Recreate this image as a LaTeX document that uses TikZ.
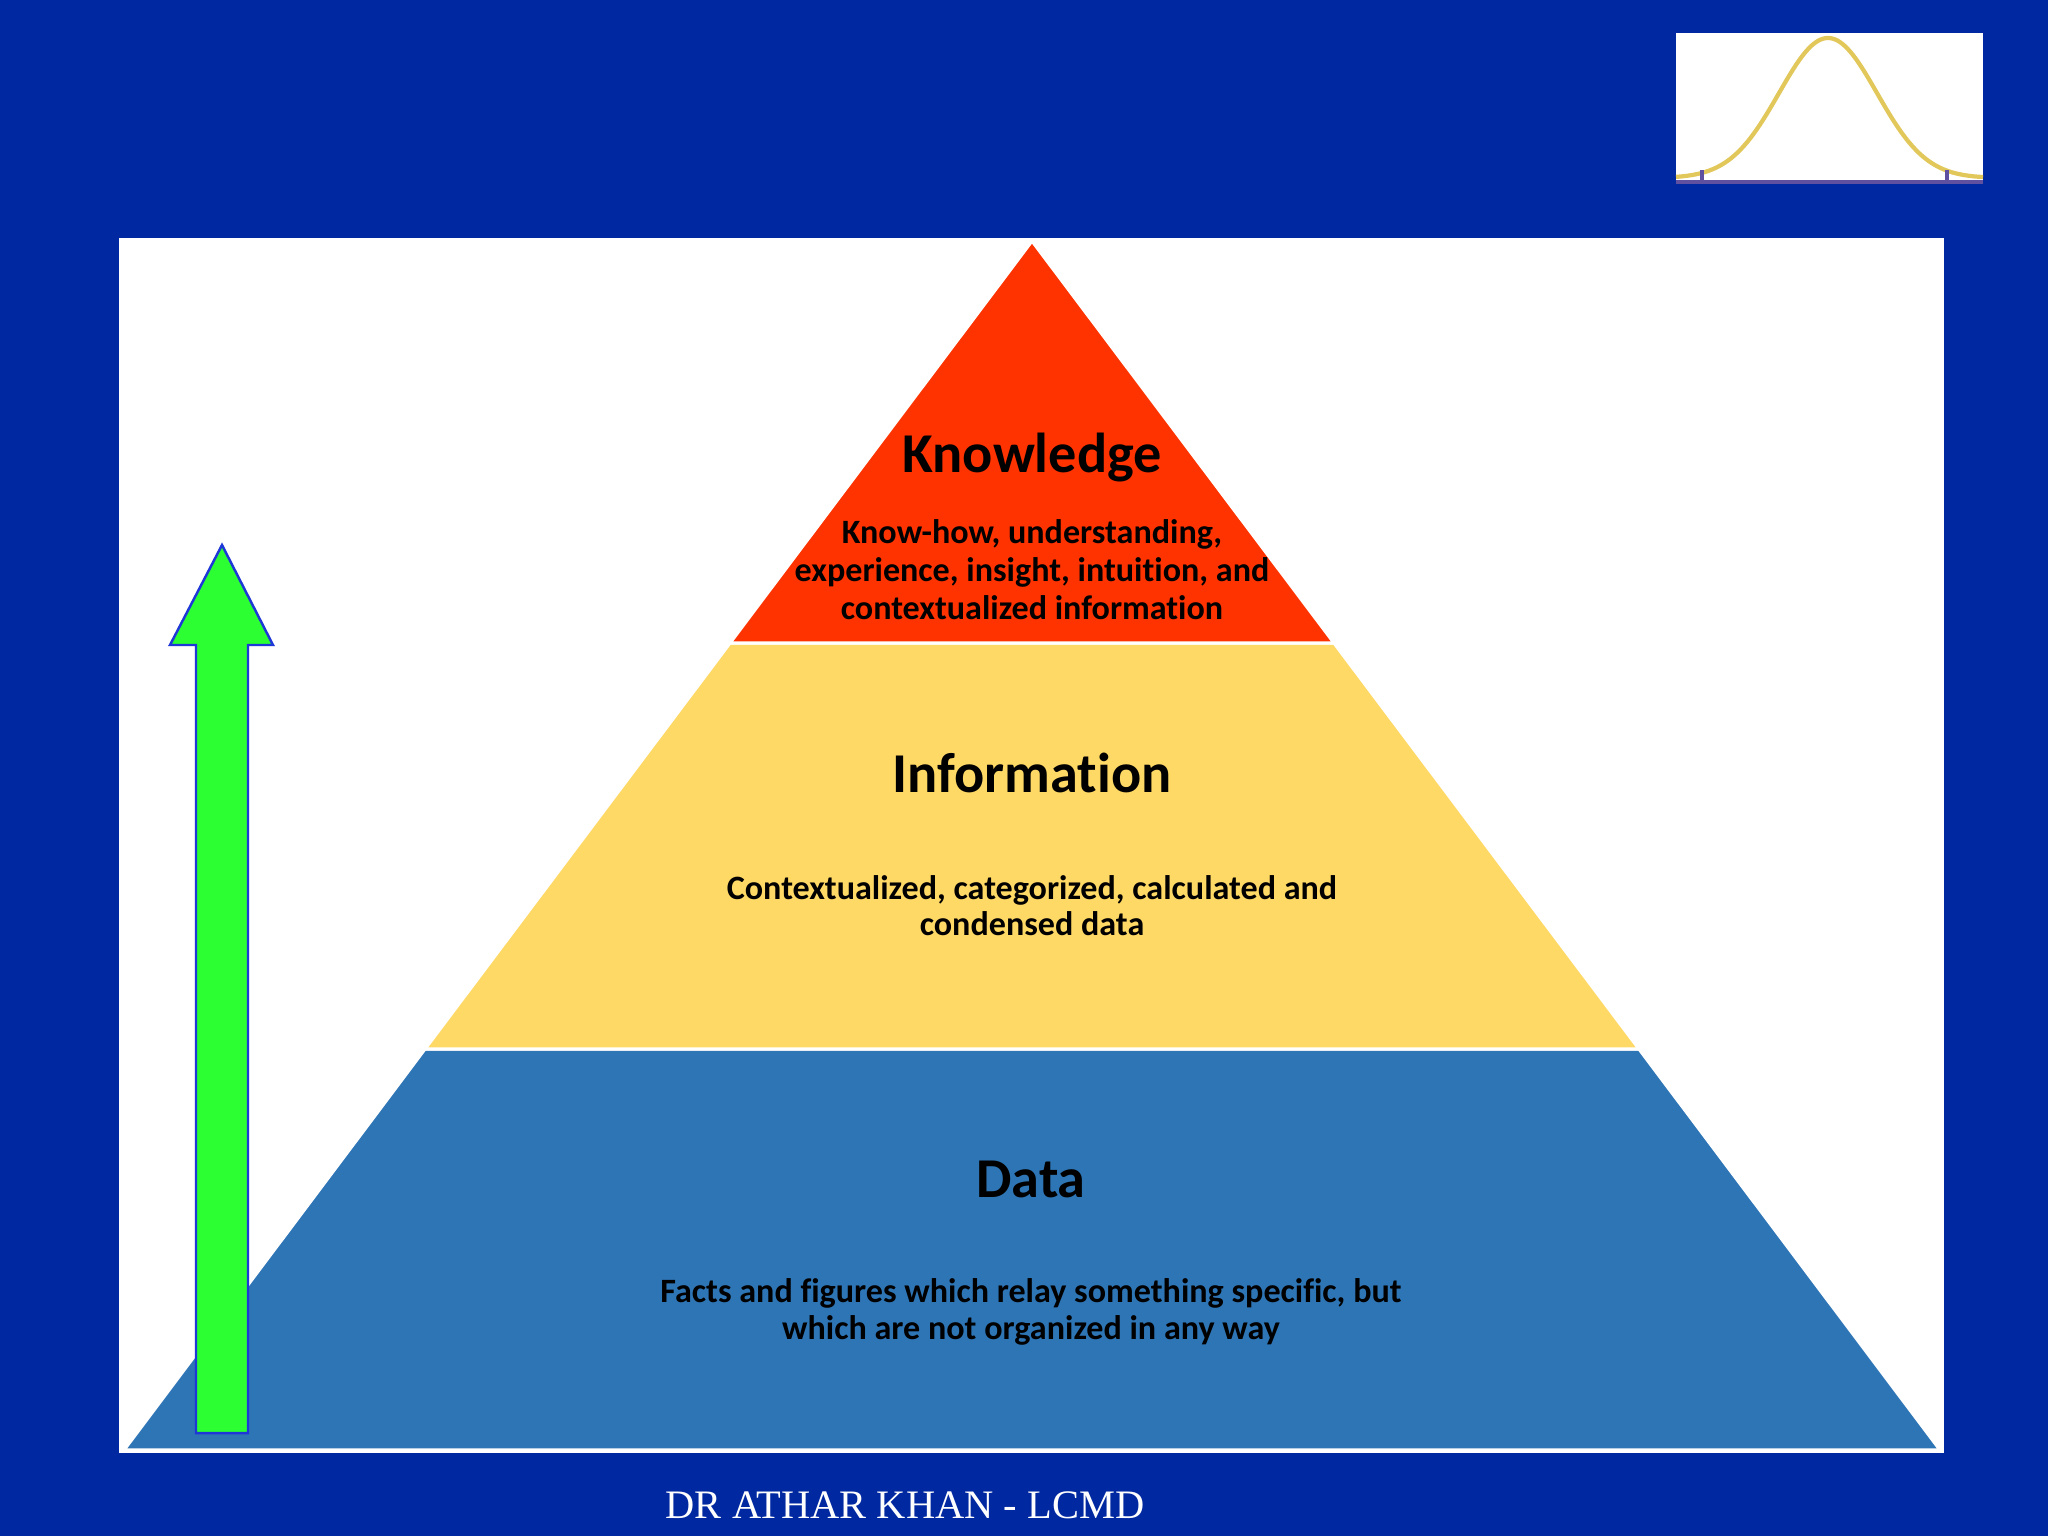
\documentclass[tikz,border=0pt]{standalone}
\usepackage{fontspec}
\setmainfont[Ligatures=NoCommon]{Carlito}
\newfontfamily\footfont{Liberation Serif}
\definecolor{bgblue}{RGB}{0,40,160}
\definecolor{kred}{RGB}{255,51,0}
\definecolor{iyellow}{RGB}{255,217,102}
\definecolor{dblue}{RGB}{46,117,182}
\definecolor{agreen}{RGB}{44,255,50}
\definecolor{aline}{RGB}{30,55,215}
\definecolor{gcurve}{RGB}{226,200,90}
\definecolor{gbase}{RGB}{95,80,160}
\tikzset{
  layer/.style={draw=white, line width=0.9pt},
  heading/.style={font=\bfseries\fontsize{16}{19}\selectfont, text=black, inner sep=0pt},
  subtext/.style={font=\bfseries\fontsize{9.7}{10.8}\selectfont, text=black, align=center, inner sep=0pt},
}
\begin{document}
\begin{tikzpicture}[x=0.01cm, y=-0.01cm]
\useasboundingbox (0,0) rectangle (2048,1536);
\fill[bgblue] (0,0) rectangle (2048,1536);
% panel
\fill[white] (119,238) rectangle (1944,1453);
% inset
\fill[white] (1676,33) rectangle (1983,183);
\coordinate (peak) at (1828,0);
\draw[gcurve, line width=1.2pt, shift={(peak)}] plot[domain=-152:155, samples=121] (\x, {178-140*exp(-0.5*(\x/49)*(\x/49))});
\draw[gbase, line width=0.9pt] (1676,182) -- (1983,182);
\draw[gbase, line width=0.9pt] (1702,170) -- (1702,182);
\draw[gbase, line width=0.9pt] (1947,170) -- (1947,182);
% pyramid
\coordinate (apex) at (1032,241);
\filldraw[layer, fill=dblue] (425,1049) -- (1639,1049) -- (1940,1450) -- (124,1450) -- cycle;
\filldraw[layer, fill=iyellow] (730,643) -- (1334,643) -- (1639,1049) -- (425,1049) -- cycle;
\filldraw[layer, fill=kred] (apex) -- (1334,643) -- (730,643) -- cycle;
% arrow
\filldraw[draw=aline, fill=agreen, line width=0.7pt, line join=miter]
  (222,545) -- (273,645) -- (248,645) -- (248,1433) -- (196,1433) -- (196,645) -- (170,645) -- cycle;
% texts
\node[heading] (kh) at (1032,458) {Knowledge};
\node[subtext] (ks) at (1032,570) {Know-how, understanding,\\experience, insight, intuition, and\\contextualized information};
\node[heading] (ih) at (1032,773) {Information};
\node[subtext, font=\bfseries\fontsize{9.7}{10.2}\selectfont] (is) at (1032,906) {Contextualized, categorized, calculated and\\condensed data};
\node[heading] (dh) at (1031,1179) {Data};
\node[subtext, font=\bfseries\fontsize{9.7}{10.4}\selectfont] (ds) at (1031,1312) {Facts and figures which relay something specific, but\\which are not organized in any way};
\node[font=\footfont\fontsize{11.5}{13}\selectfont, text=white, inner sep=0pt] (ft) at (905,1505) {DR ATHAR KHAN - LCMD};
\end{tikzpicture}
\end{document}
